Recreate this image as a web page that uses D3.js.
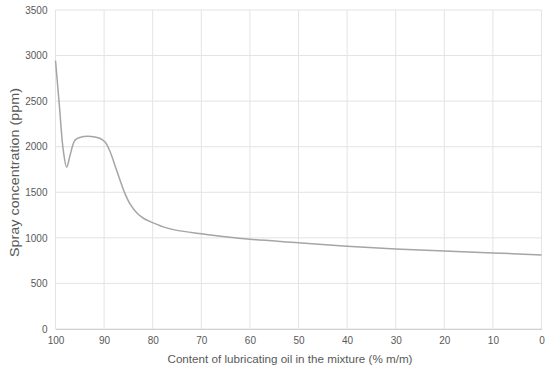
<!DOCTYPE html>
<html>
<head>
<meta charset="utf-8">
<script src="https://cdn.jsdelivr.net/npm/d3@7/dist/d3.min.js"></script>
<style>
  body { margin: 0; background: #fff; }
  svg { display: block; }
  text { font-family: "Liberation Sans", "DejaVu Sans", sans-serif; }
</style>
</head>
<body>
<svg id="chart" width="550" height="373"></svg>
<script>
// Oil content (% m/m) and spray concentration (ppm)
const oilContent = [100, 99.2, 98.4, 97.7, 97.0, 96.0, 95.0, 92.6, 90.8, 89.8, 88.8, 87.8, 86.7, 85.7, 84.7, 83.3, 81.9, 79.9, 77.3, 75, 70, 65, 60, 50, 40, 30, 20, 10, 0];
const sprayConc  = [2945, 2450, 1960, 1775, 1906, 2072, 2102, 2112, 2090, 2052, 1950, 1800, 1630, 1485, 1375, 1275, 1215, 1165, 1112, 1082, 1045, 1012, 985, 947, 908, 878, 855, 835, 812];
const xTicks = [100, 90, 80, 70, 60, 50, 40, 30, 20, 10, 0];
const yTicks = [0, 500, 1000, 1500, 2000, 2500, 3000, 3500];

const svg = d3.select("#chart");
const m = { left: 55.5, right: 8.5, top: 10, bottom: 44 };
const W = 550, H = 373;

const x = d3.scaleLinear().domain([100, 0]).range([m.left, W - m.right]);
const y = d3.scaleLinear().domain([0, 3500]).range([H - m.bottom, m.top]);

// gridlines
svg.append("g").selectAll("line").data(yTicks).join("line")
  .attr("x1", m.left).attr("x2", W - m.right)
  .attr("y1", d => y(d)).attr("y2", d => y(d))
  .attr("stroke", "#e3e3e3").attr("stroke-width", 1);
svg.append("g").selectAll("line").data(xTicks).join("line")
  .attr("y1", m.top).attr("y2", H - m.bottom)
  .attr("x1", d => x(d)).attr("x2", d => x(d))
  .attr("stroke", "#e3e3e3").attr("stroke-width", 1);

// x axis
const xAxis = svg.append("g").attr("transform", `translate(0,${H - m.bottom})`)
  .call(d3.axisBottom(x).tickValues(xTicks).tickFormat(d3.format("d")).tickSize(0).tickPadding(8));
xAxis.select(".domain").attr("stroke", "#d0d0d0");
xAxis.selectAll("text").attr("fill", "#595959").style("font-size", "10px");

// y axis
const yAxis = svg.append("g").attr("transform", `translate(${m.left},0)`)
  .call(d3.axisLeft(y).tickValues(yTicks).tickFormat(d3.format("d")).tickSize(0).tickPadding(8));
yAxis.select(".domain").remove();
yAxis.selectAll("text").attr("fill", "#595959").style("font-size", "10px");

// line
const pts = oilContent.map((c, i) => [c, sprayConc[i]]);
svg.append("path").datum(pts)
  .attr("fill", "none").attr("stroke", "#a5a5a5").attr("stroke-width", 1.5)
  .attr("d", d3.line().x(d => x(d[0])).y(d => y(d[1])).curve(d3.curveCatmullRom.alpha(0.5)));

// titles
svg.append("text").attr("x", 290).attr("y", 363)
  .attr("text-anchor", "middle").attr("fill", "#595959").style("font-size", "11.5px")
  .attr("textLength", 245).attr("lengthAdjust", "spacingAndGlyphs")
  .text("Content of lubricating oil in the mixture (% m/m)");
svg.append("text")
  .attr("transform", `translate(19,172.5) rotate(-90)`)
  .attr("text-anchor", "middle").attr("fill", "#595959").style("font-size", "12.5px")
  .attr("textLength", 169).attr("lengthAdjust", "spacingAndGlyphs")
  .text("Spray concentration (ppm)");
</script>
</body>
</html>
